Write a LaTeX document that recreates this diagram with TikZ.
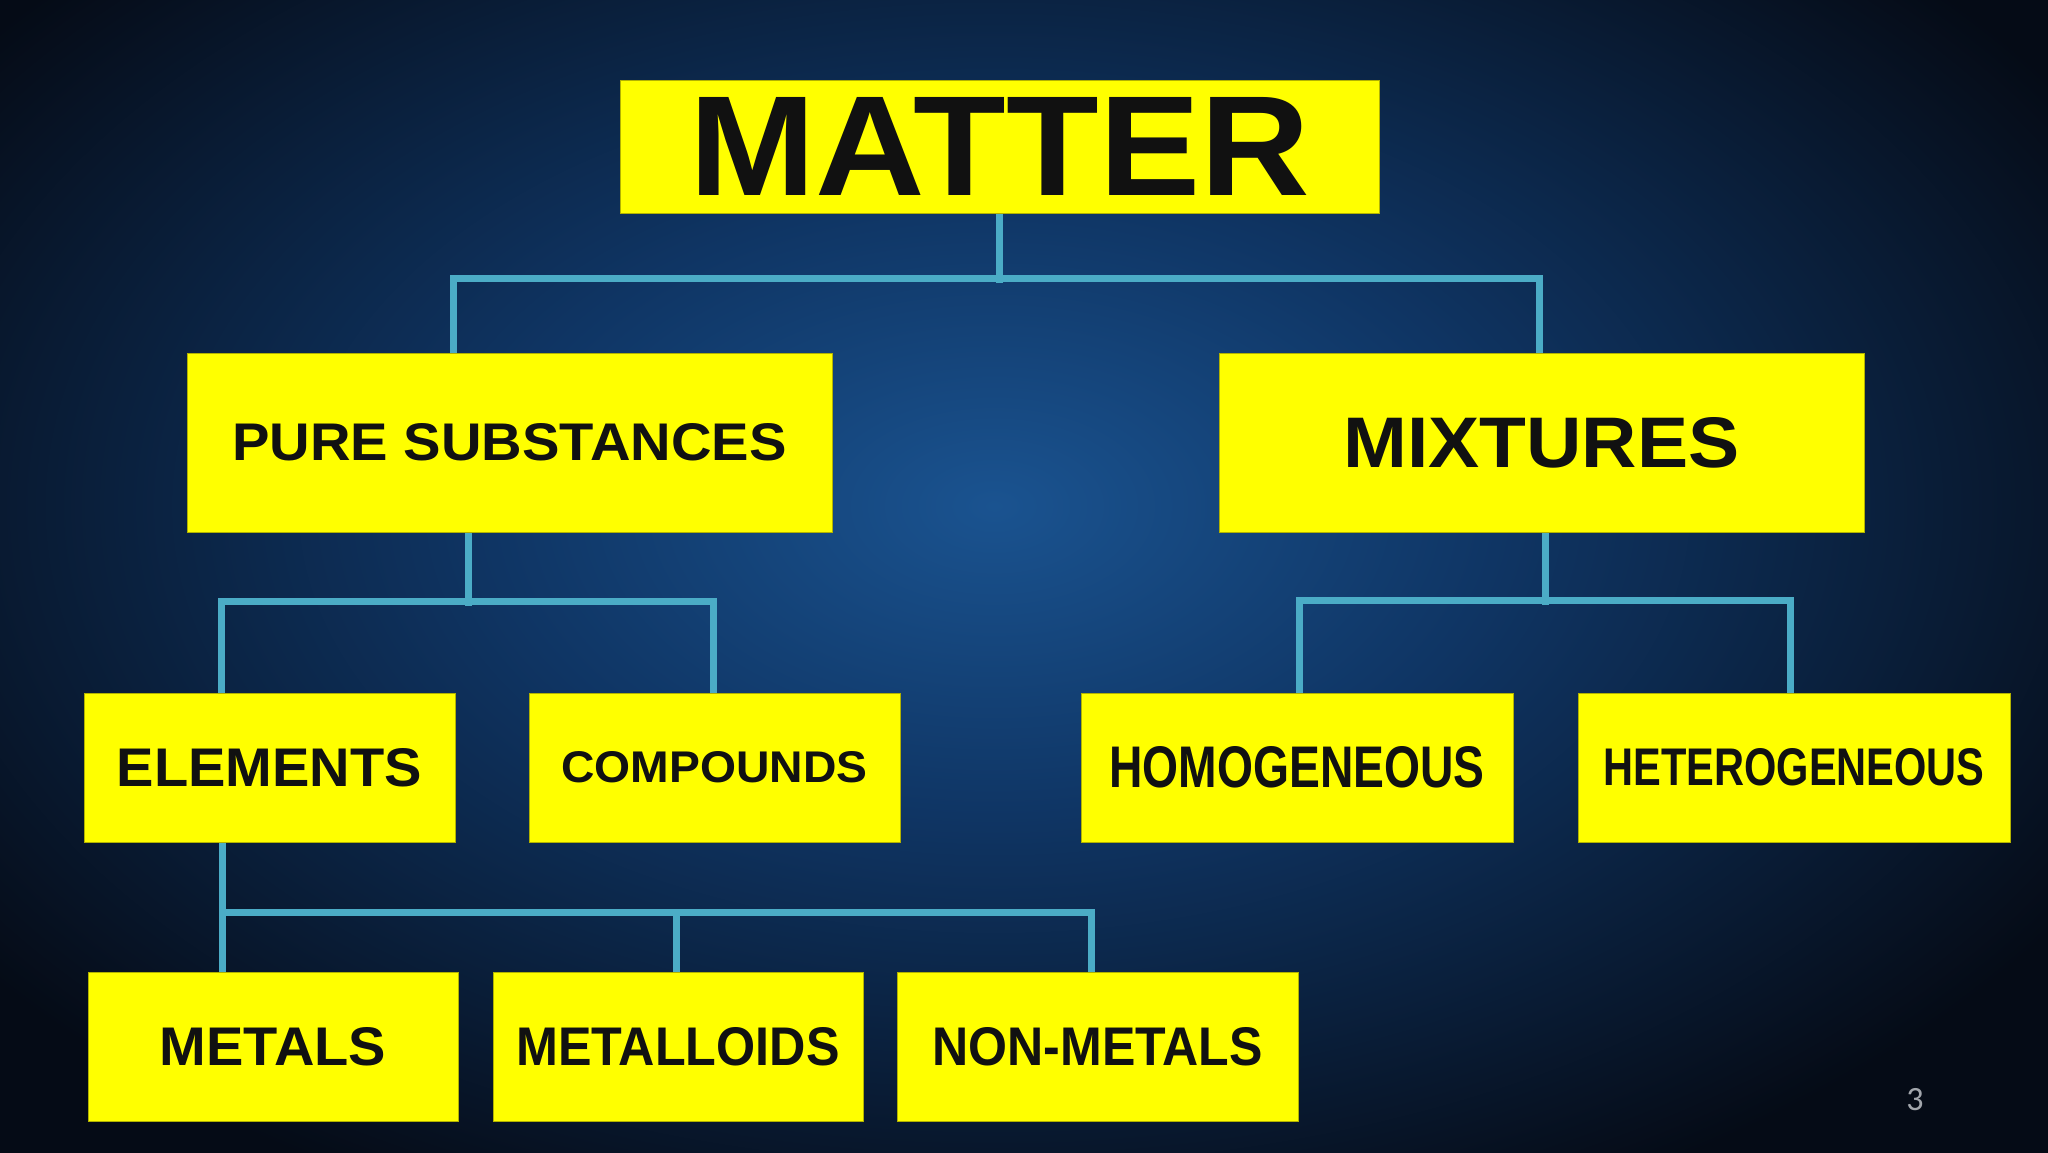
\documentclass[tikz,border=0pt]{standalone}
\usepackage{fontspec}
\usepackage{graphicx}
\setmainfont{Liberation Sans}
\newfontfamily\numfont{Carlito}
\definecolor{boxyellow}{HTML}{FFFF00}
\definecolor{linkblue}{HTML}{4BACC6}
\definecolor{txtblack}{HTML}{111111}
\definecolor{bgin}{HTML}{1A5390}
\definecolor{bgmid}{HTML}{0F3564}
\definecolor{bgout}{HTML}{050B16}
\definecolor{pagegrey}{HTML}{A2A6AC}
\pgfdeclareradialshading{bgshade}{\pgfpoint{0bp}{0bp}}{color(0bp)=(bgin); color(12bp)=(bgmid); color(30bp)=(bgout); color(60bp)=(bgout)}
\pgfdeclarelayer{bglayer}
\pgfdeclarelayer{links}
\pgfsetlayers{bglayer,links,main}
\newcommand{\fitlabel}[3]{\resizebox{#1pt}{#2pt}{\bfseries #3}}
\tikzset{
  ybox/.style={fill=boxyellow, draw=boxyellow!70!black, line width=0.8pt, inner sep=0pt, text=txtblack, anchor=center},
  conn/.style={draw=linkblue, line width=7pt, line cap=rect}
}
\begin{document}
\begin{tikzpicture}[x=1pt,y=-1pt]
\useasboundingbox (0,0) rectangle (2048,1152);
\begin{pgfonlayer}{bglayer}
\shade[shading=bgshade] (-60,-140) rectangle (2048,1152);
\end{pgfonlayer}
\node[ybox, minimum width=759pt, minimum height=133pt] (matter) at (999.5,146.5) {\fitlabel{620}{98}{MATTER}};
\node[ybox, minimum width=645pt, minimum height=179pt] (pure) at (509.5,442.5) {\fitlabel{554}{37}{PURE SUBSTANCES}};
\node[ybox, minimum width=645pt, minimum height=179pt] (mix) at (1541.5,442.5) {\fitlabel{396}{50}{MIXTURES}};
\node[ybox, minimum width=371pt, minimum height=149pt] (elem) at (269.5,767.5) {\fitlabel{305}{38}{ELEMENTS}};
\node[ybox, minimum width=371pt, minimum height=149pt] (comp) at (714.5,767.5) {\fitlabel{306}{31}{COMPOUNDS}};
\node[ybox, minimum width=432pt, minimum height=149pt] (homo) at (1297,767.5) {\fitlabel{375}{41}{HOMOGENEOUS}};
\node[ybox, minimum width=432pt, minimum height=149pt] (hetero) at (1794,767.5) {\fitlabel{381}{37}{HETEROGENEOUS}};
\node[ybox, minimum width=370pt, minimum height=149pt] (metals) at (273,1046.5) {\fitlabel{226}{38}{METALS}};
\node[ybox, minimum width=370pt, minimum height=149pt] (metalloids) at (678,1046.5) {\fitlabel{323}{38}{METALLOIDS}};
\node[ybox, minimum width=401pt, minimum height=149pt] (nonmetals) at (1097.5,1046.5) {\fitlabel{330}{38}{NON-METALS}};
\node[text=pagegrey, font=\numfont\fontsize{34}{40}\selectfont] (pagenum) at (1915,1100) {3};
\begin{pgfonlayer}{links}
% matter -> pure / mixtures
\draw[conn] (matter.south) -- ++(0,66);
\draw[conn] ([xshift=-56.5pt]pure.north) -- ++(0,-74) -| ([xshift=-2.5pt]mix.north);
% pure -> elements / compounds
\draw[conn] ([xshift=-41.5pt]pure.south) -- ++(0,70);
\draw[conn] ([xshift=-48.5pt]elem.north) -- ++(0,-91) -| ([xshift=-1.5pt]comp.north);
% mixtures -> homogeneous / heterogeneous
\draw[conn] ([xshift=3.5pt]mix.south) -- ++(0,69);
\draw[conn] ([xshift=2pt]homo.north) -- ++(0,-92) -| ([xshift=-4pt]hetero.north);
% elements -> metals / metalloids / non-metals
\draw[conn] ([xshift=-47.5pt]elem.south) -- ++(0,71);
\draw[conn] ([xshift=-51pt]metals.north) -- ++(0,-59) -| ([xshift=-6.5pt]nonmetals.north);
\draw[conn] ([xshift=-2pt]metalloids.north) -- ++(0,-59);
\end{pgfonlayer}
\end{tikzpicture}
\end{document}
